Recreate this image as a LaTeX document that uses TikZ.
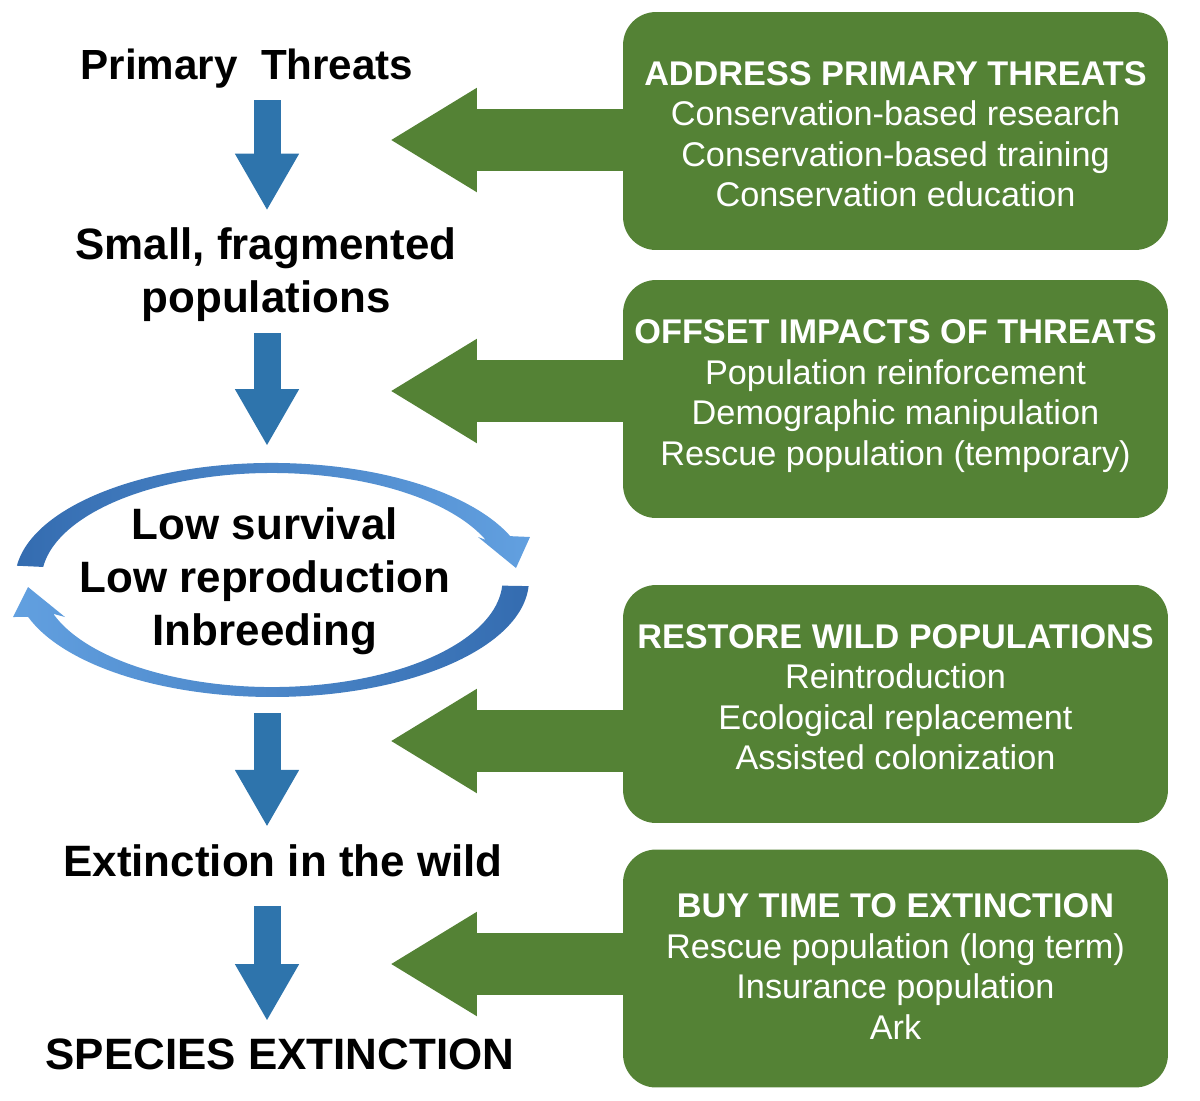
\documentclass[tikz,border=0pt]{standalone}
\usepackage{fontspec}
\setmainfont{Liberation Sans}
\usetikzlibrary{arrows.meta}
\definecolor{arrowblue}{RGB}{46,116,172}
\definecolor{boxgreen}{RGB}{84,130,53}
\definecolor{cycdark}{RGB}{52,108,176}
\definecolor{cyclight}{RGB}{98,160,224}
\tikzset{
  lbl/.style={font=\fontsize{25}{30.3}\selectfont\bfseries,align=center,inner sep=0pt},
  gbox/.style={fill=boxgreen,rounded corners=0.66cm,minimum width=10.9cm,minimum height=4.76cm,inner sep=0pt},
  gtext/.style={text=white,align=center,inner sep=0pt,font=\fontsize{19.5}{23}\selectfont},
  blarrow/.style={draw=arrowblue,line width=0.54cm,-{Triangle[length=1.14cm,width=1.2cm]},shorten >=0.34cm},
  grarrow/.style={draw=boxgreen,line width=1.24cm,-{Triangle[length=1.74cm,width=1.96cm]}}
}
\begin{document}
\begin{tikzpicture}[x=0.02cm,y=-0.02cm]
\useasboundingbox (0,0) rectangle (1200,1100);

\node[lbl,anchor=base,font=\fontsize{24}{30.3}\selectfont\bfseries] (threat) at (247,79) {Primary\ \ Threats};
\node[lbl] (small) at (266,275) {Small, fragmented\\populations};
\node[lbl] (cycle) at (265,581) {Low survival\\Low reproduction\\Inbreeding};
\node[lbl,anchor=base] (wild) at (283,876) {Extinction in the wild};
\node[lbl,anchor=base] (ext) at (280,1069) {SPECIES EXTINCTION};

\coordinate (col) at (267,0);
\coordinate (ctop) at (267,463);
\coordinate (cbot) at (267,697);

\draw[blarrow,shorten <=0.24cm] (threat.south -| col) -- (small.north -| col);
\draw[blarrow,shorten <=0.22cm] (small.south -| col) -- (ctop);
\draw[blarrow,shorten <=0.32cm] (cbot) -- (wild.north -| col);
\draw[blarrow,shorten <=0.58cm] (wild.south -| col) -- (ext.north -| col);

\shade[left color=cycdark,right color=cyclight] (16.9,565.7)
  arc[start angle=-173,end angle=-22,x radius=257,y radius=117]
  -- (530,537) -- (516,568) -- (478,537) -- (485.7,539.9)
  arc[start angle=-22,end angle=-173,x radius=230.5,y radius=107] -- cycle;
\shade[left color=cyclight,right color=cycdark] (528.6,586.1)
  arc[start angle=3,end angle=161.6,x radius=257,y radius=117]
  -- (13,617) -- (28,587) -- (65,617) -- (53.3,613.8)
  arc[start angle=161.6,end angle=3,x radius=230.5,y radius=107] -- cycle;

\node[gbox] (b1) at (895.5,131) {};
\node[gbox] (b2) at (895.5,399) {};
\node[gbox] (b3) at (895.5,704) {};
\node[gbox] (b4) at (895.5,968.5) {};

\node[gtext,yshift=-0.06cm] (t1) at (b1) {\textbf{ADDRESS PRIMARY THREATS}\\Conservation-based research\\Conservation-based training\\Conservation education};
\node[gtext,yshift=0.06cm] (t2) at (b2) {\textbf{OFFSET IMPACTS OF THREATS}\\Population reinforcement\\Demographic manipulation\\Rescue population (temporary)};
\node[gtext,yshift=0.14cm] (t3) at (b3) {\textbf{RESTORE WILD POPULATIONS}\\Reintroduction\\Ecological replacement\\Assisted colonization};
\node[gtext,yshift=0.04cm] (t4) at (b4) {\textbf{BUY TIME TO EXTINCTION}\\Rescue population (long term)\\Insurance population\\Ark};

\coordinate (g1) at (390,140);
\coordinate (g2) at (390,391);
\coordinate (g3) at (390,741);
\coordinate (g4) at (390,964);

\draw[grarrow] (b1.west |- g1) -- (g1);
\draw[grarrow] (b2.west |- g2) -- (g2);
\draw[grarrow] (b3.west |- g3) -- (g3);
\draw[grarrow] (b4.west |- g4) -- (g4);

\end{tikzpicture}
\end{document}
